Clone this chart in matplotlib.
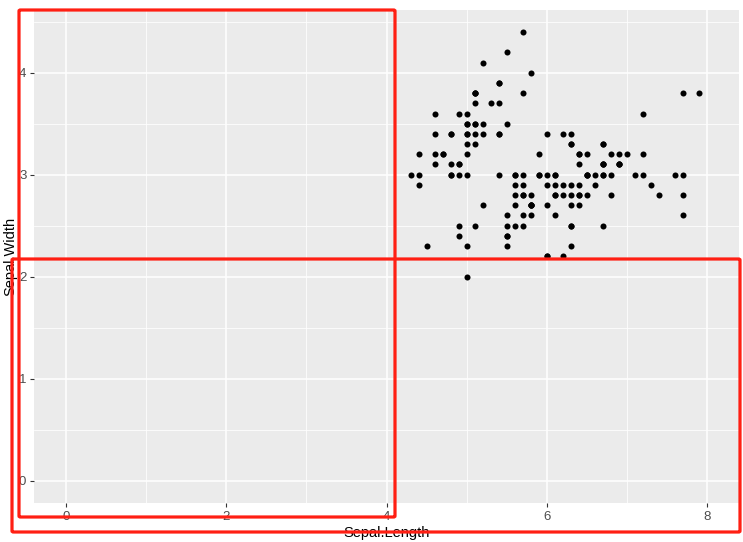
import matplotlib
matplotlib.use("Agg")
import matplotlib.pyplot as plt
from matplotlib.patches import FancyBboxPatch
from matplotlib.ticker import MultipleLocator

# iris: Sepal.Length / Sepal.Width
sepal_length = [
    5.1, 4.9, 4.7, 4.6, 5.0, 5.4, 4.6, 5.0, 4.4, 4.9, 5.4, 4.8, 4.8, 4.3, 5.8, 5.7, 5.4, 5.1, 5.7, 5.1,
    5.4, 5.1, 4.6, 5.1, 4.8, 5.0, 5.0, 5.2, 5.2, 4.7, 4.8, 5.4, 5.2, 5.5, 4.9, 5.0, 5.5, 4.9, 4.4, 5.1,
    5.0, 4.5, 4.4, 5.0, 5.1, 4.8, 5.1, 4.6, 5.3, 5.0,
    7.0, 6.4, 6.9, 5.5, 6.5, 5.7, 6.3, 4.9, 6.6, 5.2, 5.0, 5.9, 6.0, 6.1, 5.6, 6.7, 5.6, 5.8, 6.2, 5.6,
    5.9, 6.1, 6.3, 6.1, 6.4, 6.6, 6.8, 6.7, 6.0, 5.7, 5.5, 5.5, 5.8, 6.0, 5.4, 6.0, 6.7, 6.3, 5.6, 5.5,
    5.5, 6.1, 5.8, 5.0, 5.6, 5.7, 5.7, 6.2, 5.1, 5.7,
    6.3, 5.8, 7.1, 6.3, 6.5, 7.6, 4.9, 7.3, 6.7, 7.2, 6.5, 6.4, 6.8, 5.7, 5.8, 6.4, 6.5, 7.7, 7.7, 6.0,
    6.9, 5.6, 7.7, 6.3, 6.7, 7.2, 6.2, 6.1, 6.4, 7.2, 7.4, 7.9, 6.4, 6.3, 6.1, 7.7, 6.3, 6.4, 6.0, 6.9,
    6.7, 6.9, 5.8, 6.8, 6.7, 6.7, 6.3, 6.5, 6.2, 5.9,
]
sepal_width = [
    3.5, 3.0, 3.2, 3.1, 3.6, 3.9, 3.4, 3.4, 2.9, 3.1, 3.7, 3.4, 3.0, 3.0, 4.0, 4.4, 3.9, 3.5, 3.8, 3.8,
    3.4, 3.7, 3.6, 3.3, 3.4, 3.0, 3.4, 3.5, 3.4, 3.2, 3.1, 3.4, 4.1, 4.2, 3.1, 3.2, 3.5, 3.6, 3.0, 3.4,
    3.5, 2.3, 3.2, 3.5, 3.8, 3.0, 3.8, 3.2, 3.7, 3.3,
    3.2, 3.2, 3.1, 2.3, 2.8, 2.8, 3.3, 2.4, 2.9, 2.7, 2.0, 3.0, 2.2, 2.9, 2.9, 3.1, 3.0, 2.7, 2.2, 2.5,
    3.2, 2.8, 2.5, 2.8, 2.9, 3.0, 2.8, 3.0, 2.9, 2.6, 2.4, 2.4, 2.7, 2.7, 3.0, 3.4, 3.1, 2.3, 3.0, 2.5,
    2.6, 3.0, 2.6, 2.3, 2.7, 3.0, 2.9, 2.9, 2.5, 2.8,
    3.3, 2.7, 3.0, 2.9, 3.0, 3.0, 2.5, 2.9, 2.5, 3.6, 3.2, 2.7, 3.0, 2.5, 2.8, 3.2, 3.0, 3.8, 2.6, 2.2,
    3.2, 2.8, 2.8, 2.7, 3.3, 3.2, 2.8, 3.0, 2.8, 3.0, 2.8, 3.8, 2.8, 2.8, 2.6, 3.0, 3.4, 3.1, 3.0, 3.1,
    3.1, 3.1, 2.7, 3.2, 3.3, 3.0, 2.5, 3.0, 3.4, 3.0,
]

x_ticks = [0, 2, 4, 6, 8]
y_ticks = [0, 1, 2, 3, 4]

W, H = 743, 542
plt.rcParams['font.family'] = ['Liberation Sans', 'DejaVu Sans']

fig = plt.figure(figsize=(W / 100, H / 100), dpi=100)
ax = fig.add_axes([34 / W, 1 - 503 / H, (739 - 34) / W, (503 - 9.5) / H])

ax.set_facecolor('#EBEBEB')
for s in ax.spines.values():
    s.set_visible(False)

ax.scatter(sepal_length, sepal_width, s=19, color='black', linewidths=0, zorder=3)

ax.set_xlim(-0.4, 8.4)
ax.set_ylim(-0.22, 4.62)
ax.set_xticks(x_ticks)
ax.set_yticks(y_ticks)
ax.xaxis.set_minor_locator(MultipleLocator(1))
ax.yaxis.set_minor_locator(MultipleLocator(0.5))
ax.grid(which='major', color='white', linewidth=1.1)
ax.grid(which='minor', color='white', linewidth=0.55)
ax.set_axisbelow(True)
ax.tick_params(which='major', length=3, width=0.8, color='#333333',
               labelcolor='#4D4D4D', labelsize=9.5, pad=2.5)
ax.tick_params(which='minor', length=0)

ax.set_xlabel('Sepal.Length', fontsize=10.5, color='black', labelpad=2.5)
ax.set_ylabel('Sepal.Width', fontsize=10.5, color='black', labelpad=1)

# red annotation boxes (pixel coords, top-left origin)
boxes = [(19, 10, 395, 517), (12, 259, 740, 532)]
for x0, y0, x1, y1 in boxes:
    r = FancyBboxPatch((x0 / W, 1 - y1 / H), (x1 - x0) / W, (y1 - y0) / H,
                       boxstyle='round,pad=0,rounding_size=0.002',
                       transform=fig.transFigure, fill=False,
                       edgecolor='#FF1F13', linewidth=2.3, zorder=10)
    fig.add_artist(r)

fig.savefig('out.png', dpi=100)
